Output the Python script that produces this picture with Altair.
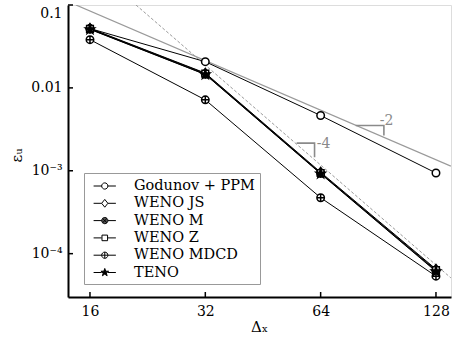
import altair as alt
import pandas as pd

# ---------------- data ----------------
N = [16, 32, 64, 128]
series_names = ["Godunov + PPM", "WENO JS", "WENO M", "WENO Z", "WENO MDCD", "TENO"]
godunov = [0.0520, 0.0207, 0.00464, 0.00094]
weno_js = [0.0522, 0.0151, 0.00096, 6.5e-5]
weno_m = [0.0512, 0.0146, 0.00093, 6.2e-5]
weno_z = [0.0516, 0.0149, 0.00094, 6.35e-5]
weno_mdcd = [0.0382, 0.00717, 0.000473, 5.35e-5]
teno = [0.0508, 0.0145, 0.00092, 6.1e-5]

x_ticks = [16, 32, 64, 128]
y_ticks = [0.1, 0.01, 0.001, 0.0001]
y_tick_labels = ["0.1", "0.01", "10⁻³", "10⁻⁴"]

ref2_x = [14.7, 140.0]
ref2_y = [0.1, 0.00114]
ref4_x = [21.1, 140.0]
ref4_y = [0.1, 5.1e-5]
tri2_x = [79.0, 93.6, 93.6]
tri2_y = [0.003515, 0.003515, 0.00266]
tri4_x = [55.4, 61.7, 61.7]
tri4_y = [0.002153, 0.002153, 0.001458]
slope_labels = ["-2", "-4"]
slope_label_x = [91.3, 62.5]
slope_label_y = [0.00361, 0.001857]

rows = []
for name, vals in zip(series_names, [godunov, weno_js, weno_m, weno_z, weno_mdcd, teno]):
    for n, v in zip(N, vals):
        rows.append({"series": name, "N": n, "err": v})
df = pd.DataFrame(rows)

ref_df = pd.DataFrame(
    [{"ref": "s2", "N": a, "err": b} for a, b in zip(ref2_x, ref2_y)]
    + [{"ref": "s4", "N": a, "err": b} for a, b in zip(ref4_x, ref4_y)]
)
tri_df = pd.DataFrame(
    [{"tri": "t2", "o": i, "N": a, "err": b} for i, (a, b) in enumerate(zip(tri2_x, tri2_y))]
    + [{"tri": "t4", "o": i, "N": a, "err": b} for i, (a, b) in enumerate(zip(tri4_x, tri4_y))]
)
lab_df = pd.DataFrame({"t": slope_labels, "N": slope_label_x, "err": slope_label_y})
xt_df = pd.DataFrame({"N": x_ticks})
yt_df = pd.DataFrame({"err": y_ticks})

# ---------------- marker shapes ----------------
def r3(v):
    return round(v, 3)

def circ(r, cx=0.0):
    return (f"M{r3(cx - r)},0A{r3(r)},{r3(r)} 0 1,1 {r3(cx + r)},0"
            f"A{r3(r)},{r3(r)} 0 1,1 {r3(cx - r)},0Z")

def marker(kind, s, cx=0.0):
    if kind == "circle":
        return circ(s, cx)
    if kind == "diamond":
        return f"M{r3(cx)},{r3(-1.25*s)}L{r3(cx+s)},0L{r3(cx)},{r3(1.25*s)}L{r3(cx-s)},0Z"
    if kind == "otimes":
        d = 0.7 * s
        return circ(s, cx) + f"M{r3(cx-d)},{r3(-d)}L{r3(cx+d)},{r3(d)}M{r3(cx-d)},{r3(d)}L{r3(cx+d)},{r3(-d)}"
    if kind == "square":
        q = 0.9 * s
        return f"M{r3(cx-q)},{r3(-q)}H{r3(cx+q)}V{r3(q)}H{r3(cx-q)}Z"
    if kind == "oplus":
        return circ(s, cx) + f"M{r3(cx-s)},0H{r3(cx+s)}M{r3(cx)},{r3(-s)}V{r3(s)}"
    if kind == "star":
        pts = [(0, -1), (0.235, -0.324), (0.951, -0.309), (0.380, 0.124), (0.588, 0.809),
               (0, 0.4), (-0.588, 0.809), (-0.380, 0.124), (-0.951, -0.309), (-0.235, -0.324)]
        k = 1.3 * s
        return "M" + "L".join(f"{r3(cx + x*k)},{r3(y*k)}" for x, y in pts) + "Z"

kinds = ["circle", "diamond", "otimes", "square", "oplus", "star"]
fills = ["white", "white", "#555555", "white", "white", "black"]
plot_shapes = [marker(k, 1.0) for k in kinds]

# legend symbol: drawn right of its anchor (units of sqrt(size)/2)
LEG_SIZE = 200
l0, l1, mc, mr = -0.48, 2.67, 1.1, 0.44
legend_shapes = [
    f"M{l0},0H{r3(mc - mr)}M{r3(mc + mr)},0H{l1}" + marker(k, mr, mc) for k in kinds
]

# ---------------- scales / axes ----------------
xs = alt.Scale(type="log", domain=[14.02, 140.1], nice=False)
ys = alt.Scale(type="log", domain=[3.0e-5, 0.1], nice=False)
FONT = "DejaVu Serif"

label_expr = " : ".join(
    f"abs(log(datum.value)/log(10) - ({i}))<0.1 ? '{lab}'"
    for i, lab in zip([-1, -2, -3, -4], y_tick_labels)
) + " : ''"

X = alt.X("N:Q", scale=xs, axis=alt.Axis(
    values=x_ticks, ticks=False, labelPadding=7, title="Δₓ", grid=False,
    labelFont=FONT, labelFontSize=14, labelColor="black",
    titleFont=FONT, titleFontSize=15, titleFontWeight="normal", titleColor="black",
    titleX=191, titleY=22, titleBaseline="top", titleAlign="center",
    domainColor="black", domainWidth=2))
Y = alt.Y("err:Q", scale=ys, axis=alt.Axis(
    values=y_ticks, ticks=False, labelPadding=6, title="εᵤ", grid=False,
    labelFont=FONT, labelFontSize=14, labelColor="black", labelExpr=label_expr,
    labelOffset={"condition": {"test": "datum.value > 0.05", "value": 8}, "value": 0},
    titleFont=FONT, titleFontSize=15, titleFontWeight="normal", titleColor="black",
    titleX=-52, titleY=150, titleBaseline="middle", titleAlign="center",
    domainColor="black", domainWidth=2))

ref2 = alt.Chart(ref_df).transform_filter("datum.ref == 's2'").mark_line(
    clip=True, color="#9a9a9a", strokeWidth=1.3).encode(x=X, y=Y)
ref4 = alt.Chart(ref_df).transform_filter("datum.ref == 's4'").mark_line(
    clip=True, color="#9a9a9a", strokeWidth=1, strokeDash=[3, 2]).encode(x=X, y=Y)
tri = alt.Chart(tri_df).mark_line(color="#8a8a8a", strokeWidth=1.6).encode(
    x=X, y=Y, detail="tri:N", order="o:Q")
labs = alt.Chart(lab_df).mark_text(
    align="left", baseline="alphabetic", font=FONT, fontSize=14, color="#8a8a8a").encode(
    x=X, y=Y, text="t:N")

lines = alt.Chart(df).mark_line(color="black", strokeWidth=1).encode(
    x=X, y=Y, detail="series:N")
points = alt.Chart(df).mark_point(
    filled=True, stroke="black", strokeWidth=1.5, size=56, opacity=1).encode(
    x=X, y=Y,
    shape=alt.Shape("series:N", scale=alt.Scale(domain=series_names, range=plot_shapes), legend=None),
    fill=alt.Fill("series:N", scale=alt.Scale(domain=series_names, range=fills), legend=None),
)

leg = alt.Legend(
    orient="none", legendX=16, legendY=168, title=None,
    labelFont=FONT, labelFontSize=14.5, labelColor="black",
    symbolSize=LEG_SIZE, symbolStrokeWidth=1,
    padding=5, strokeColor="#999999", fillColor="white",
    rowPadding=2.3, labelOffset=29, labelLimit=300,
)
legend_layer = alt.Chart(df).transform_filter("false").mark_point(
    filled=True, strokeWidth=1, opacity=1).encode(
    x=X, y=Y,
    shape=alt.Shape("series:N", scale=alt.Scale(domain=series_names, range=legend_shapes), legend=leg),
    fill=alt.Fill("series:N", scale=alt.Scale(domain=series_names, range=fills), legend=leg),
    stroke=alt.Stroke("series:N", scale=alt.Scale(domain=series_names, range=["black"] * 6), legend=leg),
)

xticks = alt.Chart(xt_df).mark_rule(color="black", strokeWidth=1.5).encode(
    x=X, y=alt.value(292), y2=alt.value(287))
yticks = alt.Chart(yt_df).mark_rule(color="black", strokeWidth=1.5).encode(
    y=Y, x=alt.value(0), x2=alt.value(5))

chart = alt.layer(
    ref2, ref4, tri, labs, lines, points, xticks, yticks, legend_layer
).resolve_scale(shape="independent", fill="independent", stroke="independent").properties(
    width=383, height=292,
    autosize=alt.AutoSizeParams(type="none"),
    padding={"left": 68, "top": 5, "right": 23, "bottom": 41},
).configure_view(stroke="#999999", strokeWidth=1).configure(background="white")

chart.save("out.html", embed_options={"renderer": "svg", "actions": False})
